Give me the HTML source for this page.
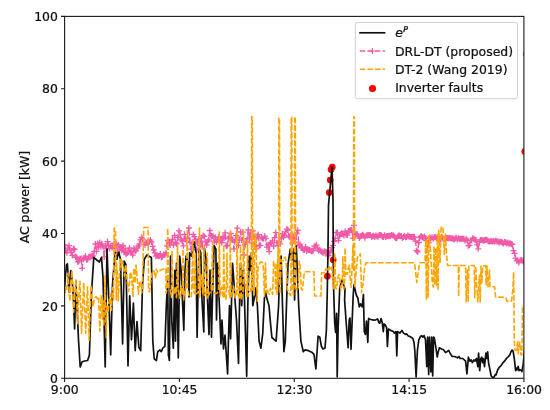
<!DOCTYPE html><html><head><meta charset="utf-8"><style>html,body{margin:0;padding:0;background:#fff;width:550px;height:410px;overflow:hidden}svg{display:block}</style></head><body><svg width="550" height="410" viewBox="0 0 550 410">
<style>text{font-family:"DejaVu Sans","Liberation Sans",sans-serif;font-size:12.8px;fill:#111;stroke:#111;stroke-width:0.25px}</style>
<defs><clipPath id="c"><rect x="64.6" y="16.4" width="459.3" height="361.9"/></clipPath></defs>
<rect width="550" height="410" fill="#fff"/>
<g clip-path="url(#c)" fill="none" stroke-linejoin="round">
<polyline points="64.6,245.0 65.7,250.5 66.8,252.8 67.9,248.1 69.0,245.6 70.1,250.1 71.2,252.3 72.3,255.3 73.4,248.6 74.5,249.4 75.6,257.0 76.7,257.3 77.8,261.9 78.9,261.1 80.0,258.7 81.1,258.5 82.2,268.3 83.3,259.3 84.4,257.8 85.5,256.2 86.6,259.8 87.7,259.6 88.8,256.9 89.9,256.6 91.0,256.4 92.1,256.1 93.2,255.8 94.3,251.5 95.4,244.0 96.5,251.4 97.6,243.6 98.7,247.2 99.8,242.4 100.9,246.8 102.0,243.8 103.1,246.7 104.2,256.9 105.3,245.8 106.4,248.8 107.5,241.6 108.6,245.1 109.7,248.4 110.8,246.0 111.9,247.6 113.0,246.8 114.1,243.2 115.2,248.4 116.3,243.8 117.4,252.7 118.5,244.9 119.6,249.1 120.7,247.0 121.8,250.4 122.9,245.5 124.0,251.7 125.1,248.9 126.2,254.5 127.3,253.0 128.4,251.2 129.5,247.9 130.6,252.8 131.7,251.6 132.8,255.2 133.9,248.3 135.0,251.1 136.1,250.5 137.2,248.0 138.3,246.0 139.4,244.2 140.5,239.8 141.6,237.5 142.7,239.2 143.8,242.1 144.9,244.8 146.0,242.7 147.1,243.0 148.2,242.1 149.3,241.8 150.4,240.1 151.5,242.0 152.6,246.3 153.7,250.0 154.8,252.8 155.9,256.2 157.0,255.2 158.1,256.0 159.2,255.9 160.3,253.9 161.4,257.4 162.5,256.8 163.6,254.8 164.7,254.8 165.8,253.5 166.9,245.8 168.0,240.5 169.1,242.1 170.2,244.9 171.3,242.5 172.4,239.3 173.5,245.1 174.6,235.5 175.7,242.5 176.8,243.9 177.9,237.6 179.0,230.8 180.1,234.8 181.2,239.9 182.3,241.2 183.4,245.8 184.5,234.3 185.6,238.8 186.7,241.7 187.8,238.0 188.9,228.0 190.0,242.3 191.1,249.1 192.2,243.2 193.3,234.5 194.4,236.7 195.5,239.6 196.6,249.8 197.7,241.3 198.8,239.0 199.9,245.5 201.0,238.1 202.1,246.9 203.2,235.5 204.3,236.4 205.4,241.8 206.5,245.0 207.6,241.6 208.7,240.0 209.8,230.5 210.9,235.5 212.0,236.0 213.1,236.3 214.2,241.4 215.3,237.2 216.4,242.3 217.5,239.2 218.6,237.3 219.7,239.4 220.8,240.8 221.9,242.7 223.0,236.7 224.1,237.9 225.2,232.8 226.3,246.2 227.4,245.5 228.5,238.2 229.6,236.8 230.7,233.5 231.8,239.8 232.9,240.0 234.0,248.9 235.1,240.2 236.2,235.7 237.3,228.2 238.4,245.6 239.5,240.1 240.6,232.0 241.7,240.1 242.8,232.1 243.9,255.0 245.0,244.4 246.1,242.0 247.2,238.6 248.3,229.8 249.4,238.9 250.5,232.7 251.6,242.8 252.7,231.0 253.8,236.9 254.9,246.9 256.0,248.9 257.1,236.2 258.2,234.6 259.3,245.5 260.4,245.3 261.5,237.1 262.6,238.4 263.7,238.4 264.8,236.1 265.9,238.4 267.0,247.1 268.1,244.7 269.2,251.6 270.3,242.7 271.4,243.3 272.5,241.0 273.6,246.2 274.7,237.7 275.8,232.6 276.9,242.7 278.0,245.5 279.1,242.2 280.2,243.9 281.3,238.5 282.4,233.7 283.5,237.3 284.6,235.2 285.7,231.8 286.8,229.1 287.9,230.0 289.0,236.5 290.1,237.2 291.2,234.5 292.3,243.1 293.4,237.5 294.5,239.4 295.6,242.4 296.7,233.3 297.8,230.3 298.9,245.5 300.0,244.2 301.1,247.9 302.2,248.0 303.3,249.8 304.4,250.0 305.5,247.0 306.6,250.9 307.7,249.7 308.8,250.0 309.9,250.1 311.0,251.2 312.1,250.9 313.2,250.5 314.3,246.2 315.4,246.3 316.5,245.1 317.6,248.8 318.7,250.6 319.8,249.7 320.9,251.3 322.0,251.7 323.1,253.1 324.2,251.3 325.3,251.8 326.4,252.3 327.5,255.8 328.6,255.4 329.7,252.4 330.8,250.8 331.9,247.7 333.0,245.3 334.1,241.3 335.2,238.4 336.3,232.4 337.4,232.6 338.5,240.6 339.6,236.1 340.7,234.3 341.8,233.1 342.9,234.3 344.0,235.4 345.1,231.4 346.2,234.8 347.3,235.0 348.4,231.0 349.5,230.8 350.6,230.1 351.7,230.1 352.8,238.1 353.9,225.3 355.0,234.5 356.1,234.0 357.2,234.2 358.3,235.9 359.4,238.1 360.5,236.2 361.6,235.7 362.7,234.8 363.8,235.7 364.9,237.8 366.0,235.7 367.1,235.2 368.2,235.1 369.3,235.2 370.4,235.0 371.5,236.8 372.6,236.2 373.7,235.8 374.8,237.0 375.9,235.5 377.0,236.5 378.1,236.6 379.2,234.9 380.3,234.9 381.4,235.4 382.5,236.7 383.6,237.0 384.7,235.3 385.8,236.9 386.9,235.9 388.0,235.9 389.1,235.8 390.2,236.0 391.3,235.0 392.4,235.6 393.5,235.5 394.6,236.7 395.7,237.9 396.8,238.3 397.9,236.2 399.0,235.3 400.1,236.2 401.2,235.9 402.3,238.0 403.4,237.0 404.5,236.1 405.6,237.3 406.7,237.1 407.8,235.6 408.9,236.4 410.0,236.7 411.1,236.9 412.2,237.0 413.3,236.7 414.4,237.1 415.5,241.0 416.6,250.7 417.7,251.9 418.8,242.5 419.9,237.5 421.0,236.1 422.1,237.1 423.2,237.8 424.3,236.4 425.4,238.1 426.5,240.6 427.6,246.1 428.7,242.7 429.8,237.6 430.9,238.4 432.0,237.3 433.1,238.8 434.2,237.2 435.3,237.1 436.4,238.3 437.5,237.1 438.6,237.7 439.7,238.6 440.8,238.9 441.9,236.9 443.0,238.5 444.1,239.5 445.2,239.1 446.3,238.1 447.4,237.9 448.5,238.2 449.6,237.7 450.7,238.3 451.8,238.5 452.9,238.5 454.0,239.5 455.1,238.6 456.2,237.8 457.3,239.6 458.4,238.2 459.5,238.7 460.6,238.9 461.7,238.8 462.8,238.4 463.9,239.0 465.0,240.8 466.1,238.9 467.2,240.2 468.3,245.8 469.4,245.3 470.5,240.5 471.6,240.2 472.7,238.3 473.8,239.1 474.9,239.8 476.0,240.1 477.1,244.8 478.2,248.8 479.3,241.7 480.4,240.0 481.5,239.9 482.6,240.3 483.7,240.7 484.8,240.0 485.9,239.7 487.0,239.8 488.1,241.2 489.2,241.4 490.3,241.2 491.4,241.3 492.5,241.5 493.6,241.0 494.7,241.7 495.8,240.6 496.9,241.4 498.0,241.2 499.1,242.4 500.2,241.6 501.3,242.1 502.4,242.6 503.5,243.5 504.6,242.1 505.7,242.2 506.8,243.6 507.9,242.4 509.0,243.7 510.1,243.2 511.2,244.0 512.3,244.4 513.4,250.6 514.5,253.3 515.6,258.2 516.7,260.8 517.8,260.4 518.9,262.5 520.0,260.5 521.1,260.0 522.2,260.4 523.3,261.6" stroke="#f05aa8" stroke-width="1.4" stroke-dasharray="5.5,2.2"/>
<path d="M61.6,245.0h6M64.6,242.0v6M62.7,250.5h6M65.7,247.5v6M63.8,252.8h6M66.8,249.8v6M64.9,248.1h6M67.9,245.1v6M66.0,245.6h6M69.0,242.6v6M67.1,250.1h6M70.1,247.1v6M68.2,252.3h6M71.2,249.3v6M69.3,255.3h6M72.3,252.3v6M70.4,248.6h6M73.4,245.6v6M71.5,249.4h6M74.5,246.4v6M72.6,257.0h6M75.6,254.0v6M73.7,257.3h6M76.7,254.3v6M74.8,261.9h6M77.8,258.9v6M75.9,261.1h6M78.9,258.1v6M77.0,258.7h6M80.0,255.7v6M78.1,258.5h6M81.1,255.5v6M79.2,268.3h6M82.2,265.3v6M80.3,259.3h6M83.3,256.3v6M81.4,257.8h6M84.4,254.8v6M82.5,256.2h6M85.5,253.2v6M83.6,259.8h6M86.6,256.8v6M84.7,259.6h6M87.7,256.6v6M85.8,256.9h6M88.8,253.9v6M86.9,256.6h6M89.9,253.6v6M88.0,256.4h6M91.0,253.4v6M89.1,256.1h6M92.1,253.1v6M90.2,255.8h6M93.2,252.8v6M91.3,251.5h6M94.3,248.5v6M92.4,244.0h6M95.4,241.0v6M93.5,251.4h6M96.5,248.4v6M94.6,243.6h6M97.6,240.6v6M95.7,247.2h6M98.7,244.2v6M96.8,242.4h6M99.8,239.4v6M97.9,246.8h6M100.9,243.8v6M99.0,243.8h6M102.0,240.8v6M100.1,246.7h6M103.1,243.7v6M101.2,256.9h6M104.2,253.9v6M102.3,245.8h6M105.3,242.8v6M103.4,248.8h6M106.4,245.8v6M104.5,241.6h6M107.5,238.6v6M105.6,245.1h6M108.6,242.1v6M106.7,248.4h6M109.7,245.4v6M107.8,246.0h6M110.8,243.0v6M108.9,247.6h6M111.9,244.6v6M110.0,246.8h6M113.0,243.8v6M111.1,243.2h6M114.1,240.2v6M112.2,248.4h6M115.2,245.4v6M113.3,243.8h6M116.3,240.8v6M114.4,252.7h6M117.4,249.7v6M115.5,244.9h6M118.5,241.9v6M116.6,249.1h6M119.6,246.1v6M117.7,247.0h6M120.7,244.0v6M118.8,250.4h6M121.8,247.4v6M119.9,245.5h6M122.9,242.5v6M121.0,251.7h6M124.0,248.7v6M122.1,248.9h6M125.1,245.9v6M123.2,254.5h6M126.2,251.5v6M124.3,253.0h6M127.3,250.0v6M125.4,251.2h6M128.4,248.2v6M126.5,247.9h6M129.5,244.9v6M127.6,252.8h6M130.6,249.8v6M128.7,251.6h6M131.7,248.6v6M129.8,255.2h6M132.8,252.2v6M130.9,248.3h6M133.9,245.3v6M132.0,251.1h6M135.0,248.1v6M133.1,250.5h6M136.1,247.5v6M134.2,248.0h6M137.2,245.0v6M135.3,246.0h6M138.3,243.0v6M136.4,244.2h6M139.4,241.2v6M137.5,239.8h6M140.5,236.8v6M138.6,237.5h6M141.6,234.5v6M139.7,239.2h6M142.7,236.2v6M140.8,242.1h6M143.8,239.1v6M141.9,244.8h6M144.9,241.8v6M143.0,242.7h6M146.0,239.7v6M144.1,243.0h6M147.1,240.0v6M145.2,242.1h6M148.2,239.1v6M146.3,241.8h6M149.3,238.8v6M147.4,240.1h6M150.4,237.1v6M148.5,242.0h6M151.5,239.0v6M149.6,246.3h6M152.6,243.3v6M150.7,250.0h6M153.7,247.0v6M151.8,252.8h6M154.8,249.8v6M152.9,256.2h6M155.9,253.2v6M154.0,255.2h6M157.0,252.2v6M155.1,256.0h6M158.1,253.0v6M156.2,255.9h6M159.2,252.9v6M157.3,253.9h6M160.3,250.9v6M158.4,257.4h6M161.4,254.4v6M159.5,256.8h6M162.5,253.8v6M160.6,254.8h6M163.6,251.8v6M161.7,254.8h6M164.7,251.8v6M162.8,253.5h6M165.8,250.5v6M163.9,245.8h6M166.9,242.8v6M165.0,240.5h6M168.0,237.5v6M166.1,242.1h6M169.1,239.1v6M167.2,244.9h6M170.2,241.9v6M168.3,242.5h6M171.3,239.5v6M169.4,239.3h6M172.4,236.3v6M170.5,245.1h6M173.5,242.1v6M171.6,235.5h6M174.6,232.5v6M172.7,242.5h6M175.7,239.5v6M173.8,243.9h6M176.8,240.9v6M174.9,237.6h6M177.9,234.6v6M176.0,230.8h6M179.0,227.8v6M177.1,234.8h6M180.1,231.8v6M178.2,239.9h6M181.2,236.9v6M179.3,241.2h6M182.3,238.2v6M180.4,245.8h6M183.4,242.8v6M181.5,234.3h6M184.5,231.3v6M182.6,238.8h6M185.6,235.8v6M183.7,241.7h6M186.7,238.7v6M184.8,238.0h6M187.8,235.0v6M185.9,228.0h6M188.9,225.0v6M187.0,242.3h6M190.0,239.3v6M188.1,249.1h6M191.1,246.1v6M189.2,243.2h6M192.2,240.2v6M190.3,234.5h6M193.3,231.5v6M191.4,236.7h6M194.4,233.7v6M192.5,239.6h6M195.5,236.6v6M193.6,249.8h6M196.6,246.8v6M194.7,241.3h6M197.7,238.3v6M195.8,239.0h6M198.8,236.0v6M196.9,245.5h6M199.9,242.5v6M198.0,238.1h6M201.0,235.1v6M199.1,246.9h6M202.1,243.9v6M200.2,235.5h6M203.2,232.5v6M201.3,236.4h6M204.3,233.4v6M202.4,241.8h6M205.4,238.8v6M203.5,245.0h6M206.5,242.0v6M204.6,241.6h6M207.6,238.6v6M205.7,240.0h6M208.7,237.0v6M206.8,230.5h6M209.8,227.5v6M207.9,235.5h6M210.9,232.5v6M209.0,236.0h6M212.0,233.0v6M210.1,236.3h6M213.1,233.3v6M211.2,241.4h6M214.2,238.4v6M212.3,237.2h6M215.3,234.2v6M213.4,242.3h6M216.4,239.3v6M214.5,239.2h6M217.5,236.2v6M215.6,237.3h6M218.6,234.3v6M216.7,239.4h6M219.7,236.4v6M217.8,240.8h6M220.8,237.8v6M218.9,242.7h6M221.9,239.7v6M220.0,236.7h6M223.0,233.7v6M221.1,237.9h6M224.1,234.9v6M222.2,232.8h6M225.2,229.8v6M223.3,246.2h6M226.3,243.2v6M224.4,245.5h6M227.4,242.5v6M225.5,238.2h6M228.5,235.2v6M226.6,236.8h6M229.6,233.8v6M227.7,233.5h6M230.7,230.5v6M228.8,239.8h6M231.8,236.8v6M229.9,240.0h6M232.9,237.0v6M231.0,248.9h6M234.0,245.9v6M232.1,240.2h6M235.1,237.2v6M233.2,235.7h6M236.2,232.7v6M234.3,228.2h6M237.3,225.2v6M235.4,245.6h6M238.4,242.6v6M236.5,240.1h6M239.5,237.1v6M237.6,232.0h6M240.6,229.0v6M238.7,240.1h6M241.7,237.1v6M239.8,232.1h6M242.8,229.1v6M240.9,255.0h6M243.9,252.0v6M242.0,244.4h6M245.0,241.4v6M243.1,242.0h6M246.1,239.0v6M244.2,238.6h6M247.2,235.6v6M245.3,229.8h6M248.3,226.8v6M246.4,238.9h6M249.4,235.9v6M247.5,232.7h6M250.5,229.7v6M248.6,242.8h6M251.6,239.8v6M249.7,231.0h6M252.7,228.0v6M250.8,236.9h6M253.8,233.9v6M251.9,246.9h6M254.9,243.9v6M253.0,248.9h6M256.0,245.9v6M254.1,236.2h6M257.1,233.2v6M255.2,234.6h6M258.2,231.6v6M256.3,245.5h6M259.3,242.5v6M257.4,245.3h6M260.4,242.3v6M258.5,237.1h6M261.5,234.1v6M259.6,238.4h6M262.6,235.4v6M260.7,238.4h6M263.7,235.4v6M261.8,236.1h6M264.8,233.1v6M262.9,238.4h6M265.9,235.4v6M264.0,247.1h6M267.0,244.1v6M265.1,244.7h6M268.1,241.7v6M266.2,251.6h6M269.2,248.6v6M267.3,242.7h6M270.3,239.7v6M268.4,243.3h6M271.4,240.3v6M269.5,241.0h6M272.5,238.0v6M270.6,246.2h6M273.6,243.2v6M271.7,237.7h6M274.7,234.7v6M272.8,232.6h6M275.8,229.6v6M273.9,242.7h6M276.9,239.7v6M275.0,245.5h6M278.0,242.5v6M276.1,242.2h6M279.1,239.2v6M277.2,243.9h6M280.2,240.9v6M278.3,238.5h6M281.3,235.5v6M279.4,233.7h6M282.4,230.7v6M280.5,237.3h6M283.5,234.3v6M281.6,235.2h6M284.6,232.2v6M282.7,231.8h6M285.7,228.8v6M283.8,229.1h6M286.8,226.1v6M284.9,230.0h6M287.9,227.0v6M286.0,236.5h6M289.0,233.5v6M287.1,237.2h6M290.1,234.2v6M288.2,234.5h6M291.2,231.5v6M289.3,243.1h6M292.3,240.1v6M290.4,237.5h6M293.4,234.5v6M291.5,239.4h6M294.5,236.4v6M292.6,242.4h6M295.6,239.4v6M293.7,233.3h6M296.7,230.3v6M294.8,230.3h6M297.8,227.3v6M295.9,245.5h6M298.9,242.5v6M297.0,244.2h6M300.0,241.2v6M298.1,247.9h6M301.1,244.9v6M299.2,248.0h6M302.2,245.0v6M300.3,249.8h6M303.3,246.8v6M301.4,250.0h6M304.4,247.0v6M302.5,247.0h6M305.5,244.0v6M303.6,250.9h6M306.6,247.9v6M304.7,249.7h6M307.7,246.7v6M305.8,250.0h6M308.8,247.0v6M306.9,250.1h6M309.9,247.1v6M308.0,251.2h6M311.0,248.2v6M309.1,250.9h6M312.1,247.9v6M310.2,250.5h6M313.2,247.5v6M311.3,246.2h6M314.3,243.2v6M312.4,246.3h6M315.4,243.3v6M313.5,245.1h6M316.5,242.1v6M314.6,248.8h6M317.6,245.8v6M315.7,250.6h6M318.7,247.6v6M316.8,249.7h6M319.8,246.7v6M317.9,251.3h6M320.9,248.3v6M319.0,251.7h6M322.0,248.7v6M320.1,253.1h6M323.1,250.1v6M321.2,251.3h6M324.2,248.3v6M322.3,251.8h6M325.3,248.8v6M323.4,252.3h6M326.4,249.3v6M324.5,255.8h6M327.5,252.8v6M325.6,255.4h6M328.6,252.4v6M326.7,252.4h6M329.7,249.4v6M327.8,250.8h6M330.8,247.8v6M328.9,247.7h6M331.9,244.7v6M330.0,245.3h6M333.0,242.3v6M331.1,241.3h6M334.1,238.3v6M332.2,238.4h6M335.2,235.4v6M333.3,232.4h6M336.3,229.4v6M334.4,232.6h6M337.4,229.6v6M335.5,240.6h6M338.5,237.6v6M336.6,236.1h6M339.6,233.1v6M337.7,234.3h6M340.7,231.3v6M338.8,233.1h6M341.8,230.1v6M339.9,234.3h6M342.9,231.3v6M341.0,235.4h6M344.0,232.4v6M342.1,231.4h6M345.1,228.4v6M343.2,234.8h6M346.2,231.8v6M344.3,235.0h6M347.3,232.0v6M345.4,231.0h6M348.4,228.0v6M346.5,230.8h6M349.5,227.8v6M347.6,230.1h6M350.6,227.1v6M348.7,230.1h6M351.7,227.1v6M349.8,238.1h6M352.8,235.1v6M350.9,225.3h6M353.9,222.3v6M352.0,234.5h6M355.0,231.5v6M353.1,234.0h6M356.1,231.0v6M354.2,234.2h6M357.2,231.2v6M355.3,235.9h6M358.3,232.9v6M356.4,238.1h6M359.4,235.1v6M357.5,236.2h6M360.5,233.2v6M358.6,235.7h6M361.6,232.7v6M359.7,234.8h6M362.7,231.8v6M360.8,235.7h6M363.8,232.7v6M361.9,237.8h6M364.9,234.8v6M363.0,235.7h6M366.0,232.7v6M364.1,235.2h6M367.1,232.2v6M365.2,235.1h6M368.2,232.1v6M366.3,235.2h6M369.3,232.2v6M367.4,235.0h6M370.4,232.0v6M368.5,236.8h6M371.5,233.8v6M369.6,236.2h6M372.6,233.2v6M370.7,235.8h6M373.7,232.8v6M371.8,237.0h6M374.8,234.0v6M372.9,235.5h6M375.9,232.5v6M374.0,236.5h6M377.0,233.5v6M375.1,236.6h6M378.1,233.6v6M376.2,234.9h6M379.2,231.9v6M377.3,234.9h6M380.3,231.9v6M378.4,235.4h6M381.4,232.4v6M379.5,236.7h6M382.5,233.7v6M380.6,237.0h6M383.6,234.0v6M381.7,235.3h6M384.7,232.3v6M382.8,236.9h6M385.8,233.9v6M383.9,235.9h6M386.9,232.9v6M385.0,235.9h6M388.0,232.9v6M386.1,235.8h6M389.1,232.8v6M387.2,236.0h6M390.2,233.0v6M388.3,235.0h6M391.3,232.0v6M389.4,235.6h6M392.4,232.6v6M390.5,235.5h6M393.5,232.5v6M391.6,236.7h6M394.6,233.7v6M392.7,237.9h6M395.7,234.9v6M393.8,238.3h6M396.8,235.3v6M394.9,236.2h6M397.9,233.2v6M396.0,235.3h6M399.0,232.3v6M397.1,236.2h6M400.1,233.2v6M398.2,235.9h6M401.2,232.9v6M399.3,238.0h6M402.3,235.0v6M400.4,237.0h6M403.4,234.0v6M401.5,236.1h6M404.5,233.1v6M402.6,237.3h6M405.6,234.3v6M403.7,237.1h6M406.7,234.1v6M404.8,235.6h6M407.8,232.6v6M405.9,236.4h6M408.9,233.4v6M407.0,236.7h6M410.0,233.7v6M408.1,236.9h6M411.1,233.9v6M409.2,237.0h6M412.2,234.0v6M410.3,236.7h6M413.3,233.7v6M411.4,237.1h6M414.4,234.1v6M412.5,241.0h6M415.5,238.0v6M413.6,250.7h6M416.6,247.7v6M414.7,251.9h6M417.7,248.9v6M415.8,242.5h6M418.8,239.5v6M416.9,237.5h6M419.9,234.5v6M418.0,236.1h6M421.0,233.1v6M419.1,237.1h6M422.1,234.1v6M420.2,237.8h6M423.2,234.8v6M421.3,236.4h6M424.3,233.4v6M422.4,238.1h6M425.4,235.1v6M423.5,240.6h6M426.5,237.6v6M424.6,246.1h6M427.6,243.1v6M425.7,242.7h6M428.7,239.7v6M426.8,237.6h6M429.8,234.6v6M427.9,238.4h6M430.9,235.4v6M429.0,237.3h6M432.0,234.3v6M430.1,238.8h6M433.1,235.8v6M431.2,237.2h6M434.2,234.2v6M432.3,237.1h6M435.3,234.1v6M433.4,238.3h6M436.4,235.3v6M434.5,237.1h6M437.5,234.1v6M435.6,237.7h6M438.6,234.7v6M436.7,238.6h6M439.7,235.6v6M437.8,238.9h6M440.8,235.9v6M438.9,236.9h6M441.9,233.9v6M440.0,238.5h6M443.0,235.5v6M441.1,239.5h6M444.1,236.5v6M442.2,239.1h6M445.2,236.1v6M443.3,238.1h6M446.3,235.1v6M444.4,237.9h6M447.4,234.9v6M445.5,238.2h6M448.5,235.2v6M446.6,237.7h6M449.6,234.7v6M447.7,238.3h6M450.7,235.3v6M448.8,238.5h6M451.8,235.5v6M449.9,238.5h6M452.9,235.5v6M451.0,239.5h6M454.0,236.5v6M452.1,238.6h6M455.1,235.6v6M453.2,237.8h6M456.2,234.8v6M454.3,239.6h6M457.3,236.6v6M455.4,238.2h6M458.4,235.2v6M456.5,238.7h6M459.5,235.7v6M457.6,238.9h6M460.6,235.9v6M458.7,238.8h6M461.7,235.8v6M459.8,238.4h6M462.8,235.4v6M460.9,239.0h6M463.9,236.0v6M462.0,240.8h6M465.0,237.8v6M463.1,238.9h6M466.1,235.9v6M464.2,240.2h6M467.2,237.2v6M465.3,245.8h6M468.3,242.8v6M466.4,245.3h6M469.4,242.3v6M467.5,240.5h6M470.5,237.5v6M468.6,240.2h6M471.6,237.2v6M469.7,238.3h6M472.7,235.3v6M470.8,239.1h6M473.8,236.1v6M471.9,239.8h6M474.9,236.8v6M473.0,240.1h6M476.0,237.1v6M474.1,244.8h6M477.1,241.8v6M475.2,248.8h6M478.2,245.8v6M476.3,241.7h6M479.3,238.7v6M477.4,240.0h6M480.4,237.0v6M478.5,239.9h6M481.5,236.9v6M479.6,240.3h6M482.6,237.3v6M480.7,240.7h6M483.7,237.7v6M481.8,240.0h6M484.8,237.0v6M482.9,239.7h6M485.9,236.7v6M484.0,239.8h6M487.0,236.8v6M485.1,241.2h6M488.1,238.2v6M486.2,241.4h6M489.2,238.4v6M487.3,241.2h6M490.3,238.2v6M488.4,241.3h6M491.4,238.3v6M489.5,241.5h6M492.5,238.5v6M490.6,241.0h6M493.6,238.0v6M491.7,241.7h6M494.7,238.7v6M492.8,240.6h6M495.8,237.6v6M493.9,241.4h6M496.9,238.4v6M495.0,241.2h6M498.0,238.2v6M496.1,242.4h6M499.1,239.4v6M497.2,241.6h6M500.2,238.6v6M498.3,242.1h6M501.3,239.1v6M499.4,242.6h6M502.4,239.6v6M500.5,243.5h6M503.5,240.5v6M501.6,242.1h6M504.6,239.1v6M502.7,242.2h6M505.7,239.2v6M503.8,243.6h6M506.8,240.6v6M504.9,242.4h6M507.9,239.4v6M506.0,243.7h6M509.0,240.7v6M507.1,243.2h6M510.1,240.2v6M508.2,244.0h6M511.2,241.0v6M509.3,244.4h6M512.3,241.4v6M510.4,250.6h6M513.4,247.6v6M511.5,253.3h6M514.5,250.3v6M512.6,258.2h6M515.6,255.2v6M513.7,260.8h6M516.7,257.8v6M514.8,260.4h6M517.8,257.4v6M515.9,262.5h6M518.9,259.5v6M517.0,260.5h6M520.0,257.5v6M518.1,260.0h6M521.1,257.0v6M519.2,260.4h6M522.2,257.4v6M520.3,261.6h6M523.3,258.6v6" stroke="#f05aa8" stroke-width="1.3"/>
<circle cx="327.4" cy="276.2" r="3.35" fill="#ff0000" stroke="none"/>
<circle cx="333.2" cy="259.8" r="3.35" fill="#ff0000" stroke="none"/>
<circle cx="329.2" cy="192.6" r="3.35" fill="#ff0000" stroke="none"/>
<circle cx="330.2" cy="180" r="3.35" fill="#ff0000" stroke="none"/>
<circle cx="331" cy="169.5" r="3.35" fill="#ff0000" stroke="none"/>
<circle cx="332.3" cy="167" r="3.35" fill="#ff0000" stroke="none"/>
<circle cx="526.5" cy="54.2" r="3.35" fill="#ff0000" stroke="none"/>
<circle cx="524.8" cy="151.5" r="3.35" fill="#ff0000" stroke="none"/>
<polyline points="64.6,287.0 65.5,275.0 66.5,265.0 67.4,263.9 68.3,280.0 69.0,292.0 69.8,280.0 70.8,270.7 71.8,277.5 72.4,283.0 73.5,300.0 74.6,329.0 75.9,281.0 78.5,339.8 80.2,367.0 82.1,361.7 84.7,361.0 87.6,360.5 89.4,355.0 91.3,295.9 93.8,257.4 96.8,260.0 99.3,262.0 101.5,257.4 103.0,277.6 105.2,367.0 107.0,249.0 109.6,321.5 110.7,355.0 112.5,284.9 115.1,252.0 116.9,259.3 118.7,252.0 120.5,259.3 122.6,344.0 124.2,261.1 126.0,264.8 128.0,366.0 129.7,295.9 131.5,339.8 133.4,303.2 135.2,350.7 137.0,321.5 138.8,347.1 140.7,350.7 142.5,284.9 144.3,259.3 146.9,254.9 149.1,256.3 151.4,257.4 152.8,341.1 154.2,358.8 156.4,360.5 157.8,351.7 159.9,349.9 161.3,351.7 162.7,348.2 164.9,346.4 166.3,305.7 167.7,281.0 168.4,355.2 169.4,360.5 170.5,256.2 171.9,323.4 173.3,348.2 174.8,270.4 175.5,341.1 176.5,263.3 178.3,358.0 179.7,256.2 181.1,270.0 183.8,330.3 185.0,270.0 186.1,256.2 188.2,263.3 189.0,297.0 189.6,252.7 191.7,256.2 194.2,242.1 196.0,252.7 197.1,337.2 198.9,248.3 200.7,252.0 202.0,300.0 203.8,332.0 204.4,248.3 206.2,259.3 207.5,300.0 209.0,334.6 210.0,270.0 211.5,337.2 212.4,300.0 214.1,245.6 215.9,249.1 216.5,320.0 217.7,263.3 219.4,305.7 221.0,344.0 222.0,320.0 223.5,349.0 225.0,335.0 227.6,374.0 228.5,337.5 229.5,305.7 230.6,338.8 231.5,302.2 232.5,263.3 233.6,277.4 235.0,300.0 236.5,320.0 238.5,363.4 239.5,305.7 240.5,263.3 241.7,305.7 243.1,270.4 244.5,300.0 246.7,376.3 247.8,305.7 249.2,256.2 250.3,270.4 251.4,252.7 252.8,305.7 254.2,298.6 255.6,288.0 257.4,305.7 259.1,341.1 260.9,348.2 262.7,334.0 264.4,298.6 265.5,291.6 266.9,298.6 269.0,305.7 270.5,323.4 271.9,337.5 274.0,339.3 276.1,341.1 278.6,305.7 279.7,270.4 281.1,256.2 282.5,305.7 283.9,351.7 285.3,341.1 286.7,298.6 288.1,263.3 290.3,249.1 292.0,259.8 293.8,249.1 294.6,300.0 295.6,250.0 296.3,246.0 297.3,270.4 298.7,305.7 300.9,341.1 303.3,351.7 305.1,349.9 308.5,350.7 312.2,352.6 314.0,354.4 315.9,369.0 316.6,358.0 318.1,336.1 319.8,337.2 321.3,346.0 323.0,349.0 325.0,348.0 326.4,330.0 327.3,290.0 328.0,250.0 328.5,205.0 332.0,167.0 333.0,200.0 333.4,281.7 334.0,300.7 334.7,323.0 335.6,332.4 336.6,313.4 337.2,376.8 338.1,329.3 339.7,288.0 342.0,280.1 343.5,284.9 345.0,288.8 344.6,300.0 346.0,320.0 347.0,333.0 348.1,347.8 349.2,320.0 350.0,318.0 351.0,349.3 352.2,320.0 353.2,295.0 354.0,284.9 356.3,295.0 357.8,298.0 359.3,306.8 360.7,303.9 362.2,306.8 363.4,294.5 364.3,331.7 365.4,334.4 366.5,321.0 367.8,342.4 368.6,318.3 369.3,319.0 370.9,319.5 372.3,319.8 373.8,320.2 375.8,319.8 377.7,319.0 378.9,322.7 379.7,323.2 381.1,318.5 382.3,323.0 383.3,331.7 384.0,324.0 385.2,325.0 386.6,327.7 387.4,346.5 388.5,329.0 390.6,330.4 392.8,331.2 394.6,333.1 396.0,331.7 396.8,355.9 397.6,331.7 400.0,333.1 401.9,330.4 403.5,333.1 405.4,334.4 406.7,333.9 408.0,335.7 410.7,337.1 412.9,338.4 414.0,342.4 414.8,350.5 416.1,377.0 417.4,350.5 418.8,339.8 420.1,337.1 421.5,335.7 422.8,337.1 424.1,335.7 425.5,339.8 426.8,366.6 427.6,337.1 428.7,374.6 429.5,337.1 430.9,372.0 431.7,337.1 432.7,376.0 433.6,337.0 434.3,338.0 435.5,345.0 437.2,357.0 438.2,352.0 439.4,347.8 441.5,349.0 443.5,349.8 445.5,352.5 446.8,351.8 448.8,350.5 450.5,354.0 452.2,356.5 454.8,356.5 457.5,357.8 458.9,356.5 460.2,358.5 462.8,358.5 465.6,361.2 466.9,374.0 468.4,357.2 469.8,361.2 471.1,359.9 472.4,362.6 473.8,359.9 475.1,361.2 476.5,358.5 477.8,366.6 478.6,353.2 479.7,370.6 480.8,358.5 481.8,357.2 482.6,362.6 483.4,358.5 484.5,366.6 485.9,353.2 486.7,358.5 487.7,351.8 488.5,362.6 489.9,369.3 491.2,376.0 492.6,377.3 493.9,377.3 495.2,374.6 496.0,374.9 497.7,369.8 499.4,367.2 501.1,365.5 502.8,362.9 504.5,361.2 506.2,358.7 508.0,357.0 509.7,355.2 511.0,351.8 512.2,350.1 513.1,351.0 514.4,359.5 515.6,370.6 516.5,368.0 517.3,369.8 518.2,366.3 519.0,370.6 519.9,369.8 521.3,370.6 522.0,371.5 522.5,368.0 523.2,364.6 524.5,350.0" stroke="#111" stroke-width="1.7"/>
<polyline points="64.6,287.2 65.5,292.4 66.3,290.6 67.3,282.9 68.0,273.1 69.8,301.0 71.4,277.4 72.0,270.7 73.7,312.2 75.9,279.2 77.8,323.6 79.3,286.6 80.0,281.2 81.6,333.5 83.7,282.6 85.7,333.2 87.5,286.8 89.1,340.3 90.8,288.9 91.0,285.0 93.0,306.9 94.4,298.0 96.0,296.5 97.5,299.0 98.7,297.0 98.7,302.3 99.9,331.1 101.1,295.8 102.4,319.3 103.0,301.0 103.8,326.2 105.1,275.7 106.2,337.8 107.0,305.4 108.2,312.3 109.1,301.1 110.3,294.0 111.3,310.1 112.8,287.4 113.5,300.0 114.2,228.0 115.5,230.0 116.3,300.0 116.6,262.4 117.9,285.9 118.3,300.7 119.2,278.1 120.5,259.2 121.5,266.7 122.3,261.1 123.5,266.7 124.5,276.1 126.0,264.9 127.2,281.8 128.7,291.5 130.3,272.0 131.4,274.9 133.0,296.5 133.8,268.3 134.8,270.4 135.0,283.3 136.0,265.1 137.1,276.4 138.4,294.5 139.7,281.0 141.1,286.0 141.8,292.9 142.3,290.0 143.8,227.5 148.0,227.5 148.6,291.0 149.5,291.7 151.1,279.2 152.3,271.7 153.7,270.6 154.6,274.4 155.5,277.8 156.4,269.0 157.3,271.6 157.4,272.4 161.0,270.0 166.0,268.0 166.0,293.3 167.1,288.8 167.7,228.2 168.7,287.3 170.2,289.5 171.4,297.5 172.0,251.6 172.7,288.8 174.0,294.5 175.3,286.7 176.5,297.6 177.6,245.3 178.1,287.3 179.8,298.0 181.2,286.3 182.5,295.1 183.0,249.1 183.7,299.8 184.9,290.9 186.2,286.9 187.4,228.9 187.5,288.4 189.1,296.5 190.3,296.6 191.4,296.4 193.0,240.8 193.0,287.3 194.5,293.6 195.2,253.2 195.7,294.1 197.1,293.0 198.2,292.7 199.5,228.0 199.6,297.4 201.3,275.0 202.9,293.4 204.0,246.5 204.4,295.4 205.7,292.2 207.0,298.5 207.2,253.1 208.2,296.1 209.8,292.9 211.2,289.4 212.7,241.8 212.8,291.4 214.1,292.8 215.3,293.7 216.9,293.3 218.6,290.2 219.3,231.8 220.1,296.4 221.7,286.8 223.3,298.1 223.7,245.2 224.8,299.0 226.1,299.0 227.0,253.3 227.5,287.4 228.8,290.0 229.9,298.0 230.2,230.8 231.1,296.9 232.4,294.4 233.6,286.1 235.1,297.7 236.8,292.8 236.8,229.7 238.2,295.5 239.8,299.7 240.5,246.1 241.5,299.7 243.1,291.3 243.4,231.0 244.5,279.6 245.7,286.4 246.9,296.3 247.5,240.1 248.2,296.2 249.4,294.1 250.9,288.5 251.4,290.0 251.7,116.5 252.3,117.0 252.6,290.0 252.8,229.2 254.1,295.0 255.0,233.5 256.1,235.5 257.2,301.2 258.0,267.9 259.1,265.4 260.4,262.0 261.5,261.9 262.4,262.6 263.4,267.1 264.5,296.2 265.5,263.0 266.4,292.5 267.3,288.7 268.3,293.7 269.4,294.1 270.5,288.2 271.5,290.9 272.7,294.5 273.6,261.6 274.8,262.3 275.7,289.3 276.9,262.9 277.0,294.4 278.1,247.7 278.6,280.0 278.9,118.0 279.5,118.5 279.8,280.0 280.0,293.6 281.3,259.9 282.2,260.8 283.3,261.0 284.2,257.7 285.2,257.2 286.2,261.7 287.4,289.4 288.5,292.1 289.6,294.5 290.8,295.6 290.9,280.0 291.2,116.8 291.8,117.3 292.1,280.0 292.2,289.7 293.4,294.6 294.4,280.0 294.7,116.8 295.3,117.3 295.6,280.0 295.7,287.7 296.9,290.2 298.2,289.1 299.2,261.1 300.2,266.7 301.4,289.7 302.4,290.0 304.4,271.8 314.0,271.8 314.6,296.0 321.0,296.0 321.6,272.7 325.0,272.7 325.5,269.0 327.7,269.0 328.6,271.0 329.5,266.9 330.3,270.0 331.8,267.0 333.0,284.5 333.8,288.7 334.7,252.7 335.7,288.3 336.6,288.9 338.3,275.5 339.4,274.7 340.8,290.3 342.1,283.6 342.9,256.7 343.8,289.1 344.8,279.5 345.0,247.8 346.0,274.0 347.4,274.1 348.4,267.3 349.5,265.2 350.4,283.4 351.3,287.1 352.9,245.9 353.4,270.0 353.8,116.6 354.4,117.1 354.7,270.0 354.8,286.4 356.4,268.6 357.4,257.1 359.1,257.1 360.3,253.8 361.6,292.7 362.4,286.4 363.0,284.9 364.7,266.9 366.0,262.8 414.5,262.8 416.8,282.5 419.5,262.8 425.0,262.8 425.8,239.4 426.4,299.9 427.3,238.6 428.1,297.0 428.9,235.7 430.5,250.1 432.3,283.6 433.3,287.1 434.0,246.0 434.8,285.0 435.6,247.9 436.6,285.2 437.4,234.2 438.1,290.1 438.8,230.3 440.1,263.1 440.9,233.0 441.2,227.0 443.0,227.5 443.2,231.1 444.3,254.2 445.4,234.0 446.5,253.6 447.6,265.5 458.3,265.5 458.7,296.5 459.2,265.5 465.6,265.5 466.2,302.0 467.5,270.0 468.2,302.0 468.8,265.5 474.2,265.5 474.8,297.7 475.6,266.0 476.8,285.0 477.8,302.0 479.5,275.0 480.2,302.0 481.0,266.0 481.8,283.0 482.7,266.0 485.7,265.5 486.2,285.5 487.0,266.0 488.0,286.7 489.5,270.0 490.0,286.7 494.6,286.7 495.6,297.0 505.7,297.5 507.0,301.3 511.5,301.3 512.8,290.0 513.7,272.0 514.3,340.0 514.8,349.8 515.4,350.0 516.4,350.4 517.5,341.8 518.2,353.6 518.9,345.2 519.7,342.0 520.9,354.6 521.8,355.0 522.6,305.0" stroke="#ffa500" stroke-width="1.6" stroke-dasharray="5.7,1.9"/>
</g>
<rect x="64.6" y="16.4" width="459.3" height="361.9" fill="none" stroke="#1a1a1a" stroke-width="1.1"/>
<text transform="translate(57.9,382.90) scale(0.972,1)" text-anchor="end">0</text>
<text transform="translate(57.9,310.52) scale(0.972,1)" text-anchor="end">20</text>
<text transform="translate(57.9,238.14) scale(0.972,1)" text-anchor="end">40</text>
<text transform="translate(57.9,165.76) scale(0.972,1)" text-anchor="end">60</text>
<text transform="translate(57.9,93.38) scale(0.972,1)" text-anchor="end">80</text>
<text transform="translate(57.9,21.00) scale(0.972,1)" text-anchor="end">100</text>
<text transform="translate(64.80,394.4) scale(0.972,1)" text-anchor="middle">9:00</text>
<text transform="translate(179.62,394.4) scale(0.972,1)" text-anchor="middle">10:45</text>
<text transform="translate(294.45,394.4) scale(0.972,1)" text-anchor="middle">12:30</text>
<text transform="translate(409.27,394.4) scale(0.972,1)" text-anchor="middle">14:15</text>
<text transform="translate(524.10,394.4) scale(0.972,1)" text-anchor="middle">16:00</text>
<path d="M61.0,378.30H64.6M61.0,305.92H64.6M61.0,233.54H64.6M61.0,161.16H64.6M61.0,88.78H64.6M61.0,16.40H64.6M64.60,378.3V381.9M179.42,378.3V381.9M294.25,378.3V381.9M409.07,378.3V381.9M523.90,378.3V381.9" stroke="#1a1a1a" stroke-width="1.1"/>
<text transform="translate(28.6,197.1) rotate(-90) scale(0.972,1)" text-anchor="middle">AC power [kW]</text>
<rect x="355.3" y="22.4" width="162.2" height="76.4" rx="2.5" fill="#fff" fill-opacity="0.8" stroke="#d0d0d0" stroke-width="1"/>
<line x1="359.2" y1="32.8" x2="385.4" y2="32.8" stroke="#111" stroke-width="1.7"/>
<line x1="359.8" y1="51.0" x2="385.0" y2="51.0" stroke="#f05aa8" stroke-width="1.4" stroke-dasharray="5.5,2.1"/>
<path d="M369.4,51.0h6M372.4,47.9v6" stroke="#f05aa8" stroke-width="1.2"/>
<line x1="359.8" y1="69.2" x2="385.0" y2="69.2" stroke="#ffa500" stroke-width="1.6" stroke-dasharray="5.7,1.9"/>
<circle cx="372.5" cy="88.5" r="3.6" fill="#ff0000"/>
<text transform="translate(395.2,37.1) scale(0.972,1)" style="font-style:italic">e<tspan dy="-5.3" dx="0.4" style="font-size:8px;stroke-width:0.4px">P</tspan></text>
<text transform="translate(395.0,55.8) scale(0.972,1)">DRL-DT (proposed)</text>
<text transform="translate(395.0,73.9) scale(0.972,1)">DT-2 (Wang 2019)</text>
<text transform="translate(395.2,92.0) scale(0.972,1)">Inverter faults</text>
</svg></body></html>
